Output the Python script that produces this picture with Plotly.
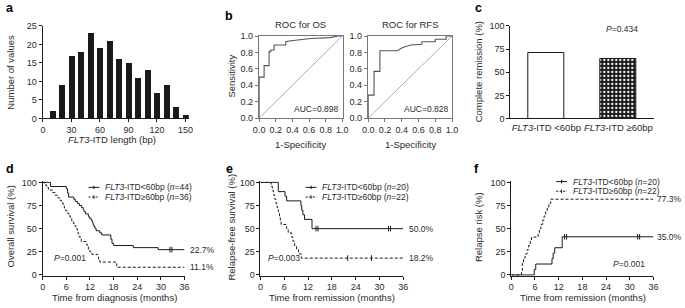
import plotly.graph_objects as go

W, H = 685, 308
FONT = "Liberation Sans, Arial, Helvetica, sans-serif"
INK = "#1a1a1a"

# ---------------- data ----------------
itd_length = [10, 20, 30, 40, 50, 60, 70, 80, 90, 100, 110, 120, 130, 140, 150]
itd_count = [2, 9, 17, 18, 23, 19, 21, 16, 15, 11, 13, 7, 9, 3, 1]
length_ticks = [0, 30, 60, 90, 120, 150]

roc_os_fpr = [0, 0, 0.06, 0.06, 0.12, 0.12, 0.14, 0.14, 0.18, 0.18, 0.32, 0.32, 0.36, 0.50, 0.62, 0.85, 0.95, 1.0]
roc_os_tpr = [0, 0.50, 0.50, 0.64, 0.64, 0.81, 0.81, 0.83, 0.83, 0.89, 0.89, 0.93, 0.94, 0.96, 0.97, 0.98, 1.0, 1.0]
roc_rfs_fpr = [0, 0, 0.07, 0.07, 0.14, 0.14, 0.35, 0.41, 0.51, 0.64, 0.64, 0.80, 0.80, 0.93, 0.93, 1.0]
roc_rfs_tpr = [0, 0.28, 0.28, 0.57, 0.57, 0.82, 0.82, 0.86, 0.89, 0.90, 0.93, 0.93, 0.96, 0.96, 1.0, 1.0]
auc_os = "AUC=0.898"
auc_rfs = "AUC=0.828"
roc_ticks = [0, 0.2, 0.4, 0.6, 0.8, 1.0]

cr_groups = ["<60bp", ">=60bp"]
cr_labels = ["<i>FLT3</i>-ITD &lt;60bp", "<i>FLT3</i>-ITD ≥60bp"]
cr_rate = [70.5, 64.7]
cr_p = "<i>P</i>=0.434"

months_ticks = [0, 6, 12, 18, 24, 30, 36]
pct_ticks = [0, 25, 50, 75, 100]

os_short_t = [0, 2.0, 6.0, 6.3, 6.6, 7.9, 8.3, 8.8, 9.3, 9.9, 10.3, 10.5, 10.9, 11.6, 11.8, 12.3, 12.6, 12.8, 13.0, 13.3, 13.6, 14.5, 15.0, 17.3, 17.6, 18.0, 23.0, 29.3, 36]
os_short_s = [100, 95.5, 93.2, 88.6, 84.1, 81.8, 79.5, 77.3, 75.0, 72.7, 70.5, 68.2, 65.9, 63.6, 61.4, 59.1, 56.8, 54.5, 52.3, 50.0, 47.7, 45.5, 43.2, 38.6, 34.1, 31.8, 29.5, 27.3, 27.3]
os_short_cens = [32.3, 32.8]
os_long_t = [0, 0.5, 1.0, 1.5, 2.5, 3.2, 3.8, 4.3, 4.8, 5.2, 5.5, 5.8, 6.2, 6.6, 7.0, 7.4, 7.8, 8.2, 8.5, 8.8, 9.0, 9.2, 9.5, 9.8, 11.0, 11.3, 11.6, 12.0, 12.5, 14.0, 14.2, 14.5, 18.8, 36]
os_long_s = [100, 97.2, 94.4, 91.7, 88.9, 86.1, 83.3, 80.6, 77.8, 75.0, 72.2, 69.4, 66.7, 63.9, 61.1, 58.3, 55.6, 52.8, 50.0, 47.2, 44.4, 41.7, 38.9, 36.1, 33.3, 30.6, 27.8, 25.0, 22.2, 19.4, 16.7, 13.9, 8.3, 8.3]

rfs_short_t = [0, 4.5, 6.2, 6.6, 10.2, 10.4, 10.7, 11.1, 13.0, 36]
rfs_short_s = [100, 90, 85, 80, 75, 70, 65, 60, 50, 50]
rfs_short_cens = [14.0, 14.5, 32.3, 32.8]
rfs_long_t = [0, 2.7, 3.0, 3.3, 3.6, 3.9, 4.2, 4.5, 4.8, 5.0, 5.2, 6.6, 7.0, 7.8, 8.2, 8.6, 9.1, 9.6, 10.3, 36]
rfs_long_s = [100, 95.5, 90.9, 86.4, 81.8, 77.3, 72.7, 68.2, 63.6, 59.1, 54.5, 50.0, 45.5, 40.9, 36.4, 31.8, 27.3, 22.7, 18.2, 18.2]
rfs_long_cens = [22.0, 28.0]

rr_short_t = [0, 5.8, 6.2, 10.3, 10.6, 11.0, 12.9, 36]
rr_short_v = [0, 5.9, 11.8, 17.6, 23.5, 29.4, 41.2, 41.2]
rr_short_cens = [13.5, 14.0, 32.0, 32.5]
rr_long_t = [0, 2.6, 2.8, 3.1, 3.5, 4.0, 4.4, 4.8, 5.1, 6.8, 7.1, 7.5, 7.9, 8.3, 8.7, 9.1, 9.5, 10.0, 36]
rr_long_v = [0, 4.5, 13.6, 18.2, 22.7, 27.3, 31.8, 36.4, 40.9, 45.5, 50.0, 54.5, 59.1, 63.6, 68.2, 72.7, 77.3, 81.8, 81.8]

# ---------------- helpers ----------------
def fx(p):
    return p / W

def fy(p):
    return 1 - p / H

fig = go.Figure()

def step(t, v, xa, ya, dash="solid"):
    fig.add_trace(go.Scatter(x=t, y=v, mode="lines", line=dict(shape="hv", color=INK, width=1, dash=dash),
                             xaxis=xa, yaxis=ya, showlegend=False, hoverinfo="skip"))

def censor(t_list, t, v, xa, ya):
    ys = []
    for c in t_list:
        val = v[0]
        for ti, vi in zip(t, v):
            if ti <= c:
                val = vi
        ys.append(val)
    fig.add_trace(go.Scatter(x=t_list, y=ys, mode="markers",
                             marker=dict(symbol="line-ns", size=4, line=dict(width=1, color=INK)),
                             xaxis=xa, yaxis=ya, showlegend=False, hoverinfo="skip", cliponaxis=False))

# a: histogram
fig.add_trace(go.Bar(x=itd_length, y=itd_count, width=6.2, marker=dict(color=INK, line=dict(width=0)),
                     xaxis="x", yaxis="y", showlegend=False))

# b: ROC
for xa, ya, fpr, tpr in [("x2", "y2", roc_os_fpr, roc_os_tpr), ("x3", "y3", roc_rfs_fpr, roc_rfs_tpr)]:
    fig.add_trace(go.Scatter(x=[0, 1], y=[0, 1], mode="lines", line=dict(color="#8a8a8a", width=0.7),
                             xaxis=xa, yaxis=ya, showlegend=False))
    fig.add_trace(go.Scatter(x=fpr, y=tpr, mode="lines", line=dict(color="#555", width=1.1),
                             xaxis=xa, yaxis=ya, showlegend=False))

# c: complete remission
fig.add_trace(go.Bar(x=[cr_groups[0]], y=[cr_rate[0]], width=0.5,
                     marker=dict(color="white", line=dict(color=INK, width=1)),
                     xaxis="x4", yaxis="y4", showlegend=False))
fig.add_trace(go.Bar(x=[cr_groups[1]], y=[cr_rate[1]], width=0.5,
                     marker=dict(color=INK, line=dict(color=INK, width=1),
                                 pattern=dict(shape=".", fgcolor="white", bgcolor=INK, size=4, solidity=0.25,
                                              fillmode="replace")),
                     xaxis="x4", yaxis="y4", showlegend=False))

# d: overall survival
step(os_short_t, os_short_s, "x5", "y5")
step(os_long_t, os_long_s, "x5", "y5", dash="3px,2px")
censor(os_short_cens, os_short_t, os_short_s, "x5", "y5")

# e: relapse-free survival
step(rfs_short_t, rfs_short_s, "x6", "y6")
step(rfs_long_t, rfs_long_s, "x6", "y6", dash="3px,2px")
censor(rfs_short_cens, rfs_short_t, rfs_short_s, "x6", "y6")
censor(rfs_long_cens, rfs_long_t, rfs_long_s, "x6", "y6")

# f: relapse risk
step(rr_short_t, rr_short_v, "x7", "y7")
step(rr_long_t, rr_long_v, "x7", "y7", dash="3px,2px")
censor(rr_short_cens, rr_short_t, rr_short_v, "x7", "y7")

# ---------------- axes ----------------
tickfont = dict(family=FONT, size=9, color="#2a2a2a")

def ax(domain, rng, tickvals=None, color=INK, mirror=False, ticks="outside", **kw):
    d = dict(domain=domain, range=rng, showline=True, linecolor=color, linewidth=1, mirror=mirror,
             ticks=ticks, ticklen=3, tickwidth=1, tickcolor=color, showgrid=False, zeroline=False,
             tickfont=tickfont, fixedrange=True)
    if tickvals is not None:
        d["tickvals"] = tickvals
    d.update(kw)
    return d

top_dom = [fy(117.3), fy(21.7)]
roc_dom = [fy(117.3), fy(31.7)]
bot_dom = [fy(279.77), fy(182.34)]

layout = dict(
    width=W, height=H, margin=dict(l=0, r=0, t=0, b=0),
    paper_bgcolor="white", plot_bgcolor="white", bargap=0,
    font=dict(family=FONT, color=INK),
    xaxis=ax([fx(37.3), fx(186)], [-0.3, 153.5], length_ticks, anchor="y", ticklen=2.5),
    yaxis=ax(top_dom, [0, 25], [0, 5, 10, 15, 20, 25], anchor="x"),
    xaxis2=ax([fx(257.3), fx(342.7)], [-0.004, 1.004], roc_ticks, color="#777", mirror=True, anchor="y2",
              tickformat=".1f"),
    yaxis2=ax(roc_dom, [-0.004, 1.004], roc_ticks, color="#777", mirror=True, anchor="x2", tickformat=".1f"),
    xaxis3=ax([fx(368.3), fx(454.3)], [-0.004, 1.004], roc_ticks, color="#777", mirror=True, anchor="y3",
              tickformat=".1f"),
    yaxis3=ax(roc_dom, [-0.004, 1.004], roc_ticks, color="#777", mirror=True, anchor="x3", tickformat=".1f"),
    xaxis4=ax([fx(513.3), fx(660)], [-0.5, 1.5], cr_groups, ticks="", anchor="y4", type="category",
              ticktext=cr_labels, tickfont=dict(family=FONT, size=9.5, color="#2a2a2a")),
    yaxis4=ax(top_dom, [0, 100], pct_ticks, anchor="x4"),
    xaxis5=ax([fx(37.3), fx(181.7)], [0, 36], months_ticks, anchor="y5"),
    yaxis5=ax(bot_dom, [-0.8, 101], pct_ticks, anchor="x5"),
    xaxis6=ax([fx(259), fx(404.3)], [0, 36], months_ticks, anchor="y6"),
    yaxis6=ax(bot_dom, [-0.8, 101], pct_ticks, anchor="x6"),
    xaxis7=ax([fx(514.3), fx(659)], [0, 36], months_ticks, anchor="y7"),
    yaxis7=ax(bot_dom, [-0.8, 101], pct_ticks, anchor="x7"),
)
fig.update_layout(**layout)

# ---------------- annotations ----------------
ann = []

def txt(text, x, y, size=9.5, angle=0, xanchor="center", yanchor="middle", color="#2a2a2a", bold=False):
    if bold:
        text = "<b>" + text + "</b>"
    ann.append(dict(text=text, x=fx(x), y=fy(y), xref="paper", yref="paper", showarrow=False,
                    xanchor=xanchor, yanchor=yanchor, textangle=angle,
                    font=dict(family=FONT, size=size, color=color)))

# panel letters
for lab, x, y in [("a", 4, 3), ("b", 227, 11), ("c", 481, 3), ("d", 4, 169), ("e", 227, 169), ("f", 479, 169)]:
    txt(lab, x, y, size=12.5, bold=True, color="#000")

# axis titles
txt("Number of values", 5, 69, angle=-90)
txt("<i>FLT3</i>-ITD length (bp)", 107.5, 139)
txt("Sensitivity", 230, 73, angle=-90)
txt("ROC for OS", 300, 20.5)
txt("ROC for RFS", 411.3, 20.5)
txt("1-Specificity", 300, 144.5)
txt("1-Specificity", 411.3, 144.5)
txt(auc_os, 315.5, 107, size=8.5)
txt(auc_rfs, 427, 107, size=8.5)
txt("Complete remission (%)", 481, 69, angle=-90)
txt(cr_p, 626.5, 25, size=8.5)
txt("Overall survival (%)", 5, 229, angle=-90)
txt("Relapse-free survival (%)", 230, 229, angle=-90)
txt("Relapse risk (%)", 481, 230, angle=-90)
txt("Time from diagnosis (months)", 110, 302)
txt("Time from remission (months)", 331.5, 302)
txt("Time from remission (months)", 587.5, 302)

# end-of-curve labels
def ypix(v):
    return 279 - v * 0.957

txt("22.7%", 185, ypix(os_short_s[-1]), size=8.5, xanchor="left")
txt("11.1%", 185, ypix(os_long_s[-1]), size=8.5, xanchor="left")
txt("50.0%", 408, ypix(rfs_short_s[-1]), size=8.5, xanchor="left")
txt("18.2%", 408, ypix(rfs_long_s[-1]), size=8.5, xanchor="left")
txt("77.3%", 661, ypix(rr_long_v[-1]), size=8.5, xanchor="left")
txt("35.0%", 661, ypix(rr_short_v[-1]), size=8.5, xanchor="left")

# p-values
txt("<i>P</i>=0.001", 47, 261, size=8.5, xanchor="left")
txt("<i>P</i>=0.003", 265, 262, size=8.5, xanchor="left")
txt("<i>P</i>=0.001", 634, 268, size=8.5)

# legends (line samples + text)
shapes = []

def legend_row(x0, x1, y, label, dashed):
    shapes.append(dict(type="line", xref="paper", yref="paper", x0=fx(x0), x1=fx(x1), y0=fy(y), y1=fy(y),
                       line=dict(color=INK, width=1, dash="2px,1.5px" if dashed else "solid")))
    xm = (x0 + x1) / 2
    shapes.append(dict(type="line", xref="paper", yref="paper", x0=fx(xm), x1=fx(xm), y0=fy(y - 1.8), y1=fy(y + 1.8),
                       line=dict(color=INK, width=1)))
    txt(label, x1 + 4, y, size=8.5, xanchor="left")

for (x0, x1, ytop, n1, n2) in [(84, 95, 188.5, 44, 36), (305, 316, 188.5, 20, 22), (560, 571, 182.5, 20, 22)]:
    legend_row(x0, x1, ytop, "<i>FLT3</i>-ITD&lt;60bp (<i>n</i>=%d)" % n1, False)
    legend_row(x0, x1, ytop + 10, "<i>FLT3</i>-ITD≥60bp (<i>n</i>=%d)" % n2, True)

fig.update_layout(annotations=ann, shapes=shapes)
fig.write_html("out.html", config={"responsive": False, "displayModeBar": False},
               post_script="document.body.style.margin='0px';document.body.style.overflow='hidden';")
